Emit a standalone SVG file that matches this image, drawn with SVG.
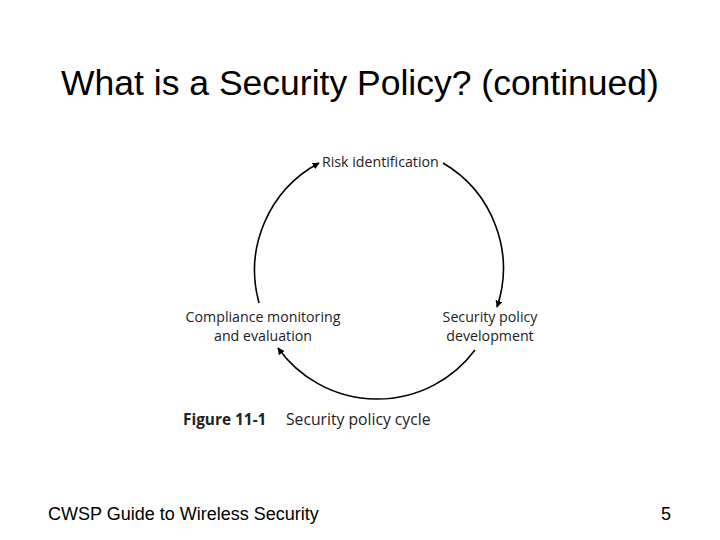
<svg xmlns="http://www.w3.org/2000/svg" width="720" height="540" viewBox="0 0 720 540">
<style>
.t{font-family:"Liberation Sans",Arial,sans-serif;fill:#000}
.d{font-family:"Open Sans","DejaVu Sans",sans-serif;font-size:14.2px;fill:#222}
.a{fill:none;stroke:#000;stroke-width:1.6;marker-end:url(#ah)}
</style>
<defs><marker id="ah" viewBox="0 0 10 10" refX="9" refY="5" markerWidth="7" markerHeight="7" orient="auto" markerUnits="userSpaceOnUse"><path d="M0,0L10,5L0,10z" fill="#000"/></marker></defs>
<rect width="720" height="540" fill="#fff"/>
<text class="t" x="360" y="95" font-size="35.5" text-anchor="middle">What is a Security Policy? (continued)</text>
<g id="connectors">
<path class="a" d="M259,303 A122,122 0 0 1 319,163"/>
<path class="a" d="M443,163 A122,122 0 0 1 497,307"/>
<path class="a" d="M475,350 A122,122 0 0 1 278,348"/>
</g>
<g id="n1"><text class="d" x="322" y="167">Risk identification</text></g>
<g id="n2"><text class="d" x="490" y="322" text-anchor="middle">Security policy</text><text class="d" x="490" y="341" text-anchor="middle">development</text></g>
<g id="n3"><text class="d" x="263" y="322" text-anchor="middle">Compliance monitoring</text><text class="d" x="263" y="341" text-anchor="middle">and evaluation</text></g>
<text class="d" x="183" y="425" style="font-weight:bold;font-size:15.4px">Figure 11-1</text>
<text class="d" x="286" y="425" style="font-size:15.7px">Security policy cycle</text>
<text class="t" x="48" y="520" font-size="18">CWSP Guide to Wireless Security</text>
<text class="t" x="671" y="520" font-size="18" text-anchor="end">5</text>
</svg>
